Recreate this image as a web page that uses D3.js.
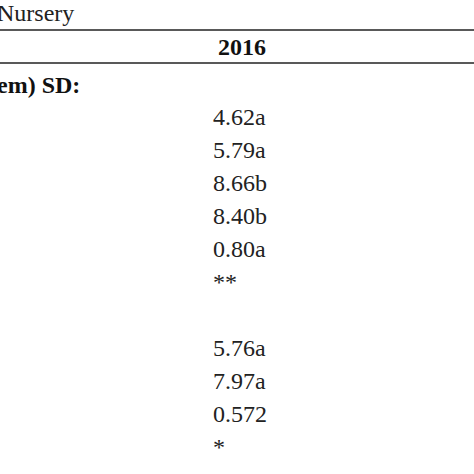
<!DOCTYPE html>
<html><head><meta charset="utf-8">
<script src="https://cdn.jsdelivr.net/npm/d3@7"></script>
<style>body{margin:0;background:#fff}</style></head>
<body><script>
const title = "Nursery";
const header = "2016";
const sectionLabel = "em) SD:";
const rowIndex = [0,1,2,3,4,5,7,8,9,10];
const values = ["4.62a","5.79a","8.66b","8.40b","0.80a","**","5.76a","7.97a","0.572","*"];

const W=474,H=474;
const svg=d3.select("body").append("svg").attr("width",W).attr("height",H)
  .style("font-family","'Liberation Serif','Times New Roman',serif").style("font-size","24px");
const y=d3.scaleLinear().domain([0,10]).range([119,449]);

svg.append("text").attr("x",-3).attr("y",15).attr("dominant-baseline","middle").attr("fill","#222").text(title);
svg.append("line").attr("x1",0).attr("x2",W).attr("y1",30).attr("y2",30).attr("stroke","#222").attr("stroke-width",1.3);
svg.append("text").attr("x",242).attr("y",49).attr("text-anchor","middle").attr("dominant-baseline","middle")
  .attr("font-weight","bold").attr("fill","#111").text(header);
svg.append("line").attr("x1",0).attr("x2",W).attr("y1",63).attr("y2",63).attr("stroke","#222").attr("stroke-width",1.3);
svg.append("text").attr("x",-3).attr("y",87).attr("dominant-baseline","middle")
  .attr("font-weight","bold").attr("fill","#111").text(sectionLabel);
svg.selectAll("text.v").data(values).join("text").attr("class","v")
  .attr("x",213).attr("y",(d,i)=>y(rowIndex[i])).attr("dominant-baseline","middle")
  .attr("fill","#222").text(d=>d);
</script></body></html>
